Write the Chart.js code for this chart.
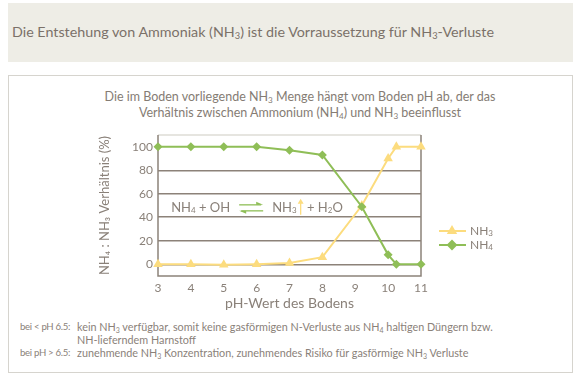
<!DOCTYPE html>
<html>
<head>
<meta charset="utf-8">
<script src="https://cdn.jsdelivr.net/npm/chart.js@4"></script>
<style>
  body { margin: 0; width: 580px; height: 375px; background: #fff; font-family: Lato, 'Open Sans', sans-serif; color: #8a8179; position: relative; overflow: hidden; }
  .banner { position: absolute; left: 8px; top: 3px; width: 565px; height: 59px; background: #eeede6; }
  .banner span { position: absolute; left: 4px; top: 20px; font-size: 14.3px; color: #7b7169; white-space: nowrap; }
  .box { position: absolute; left: 8px; top: 75px; width: 563px; height: 296px; border: 1px solid #d6d4ce; }
  .ctitle { position: absolute; left: 90px; width: 420px; top: 89px; text-align: center; font-size: 12.5px; line-height: 16px; color: #857c74; }
  sub { font-size: 65%; vertical-align: -2px; line-height: 0; }
  .note { position: absolute; font-size: 10.8px; line-height: 13px; color: #8a8179; white-space: nowrap; }
  .note.k { font-size: 9.6px; letter-spacing: -0.3px; }
  #wrap { position: absolute; left: 90px; top: 128px; width: 440px; height: 184px; }
</style>
</head>
<body>
<div class="banner"><span>Die Entstehung von Ammoniak (NH<sub>3</sub>) ist die Vorraussetzung für NH<sub>3</sub>-Verluste</span></div>
<div class="box"></div>
<div class="ctitle">Die im Boden vorliegende NH<sub>3</sub> Menge hängt vom Boden pH ab, der das<br>Verhältnis zwischen Ammonium (NH<sub>4</sub>) und NH<sub>3</sub> beeinflusst</div>
<div id="wrap"><canvas id="c"></canvas></div>
<div class="note k" style="left:20px; top:320px">bei &lt; pH 6.5:</div>
<div class="note" style="left:77px; top:320px">kein NH<sub>3</sub> verfügbar, somit keine gasförmigen N-Verluste aus NH<sub>4</sub> haltigen Düngern bzw.<br>NH-lieferndem Harnstoff</div>
<div class="note k" style="left:20px; top:346px">bei pH &gt; 6.5:</div>
<div class="note" style="left:77px; top:346px">zunehmende NH<sub>3</sub> Konzentration, zunehmendes Risiko für gasförmige NH<sub>3</sub> Verluste</div>
<script>
const phValues = [3, 4, 5, 6, 7, 8, 9.2, 10, 10.25, 11]
const nh3 = [0, 0, -0.5, 0, 1, 6, 50, 90, 100, 100]
const nh4 = [100, 100, 100, 100, 97, 93, 49, 8, 0, 0]
const yTicks = [0, 20, 40, 60, 80, 100]
const xTicks = [3, 4, 5, 6, 7, 8, 9, 10, 11]

const YELLOW = '#fcdc7e'
const GREEN = '#8fbe57'
const TEXT = '#8a8179'
const FRAME = '#8c8279'
const FONT = 'Lato, "Open Sans", sans-serif'

const toPoints = (ys) => phValues.map((x, i) => ({x: x, y: ys[i]}))

// frame, equation and legend drawn on the canvas
const extras = {
  id: 'extras',
  beforeDatasetsDraw(chart) {
    const ctx = chart.ctx
    const a = chart.chartArea
    ctx.save()
    ctx.lineWidth = 1.5
    ctx.strokeStyle = '#dedcd6'
    ctx.beginPath(); ctx.moveTo(a.left, a.top); ctx.lineTo(a.right, a.top); ctx.stroke()
    ctx.strokeStyle = FRAME
    ctx.beginPath()
    ctx.moveTo(a.left, a.top); ctx.lineTo(a.left, a.bottom); ctx.lineTo(a.right, a.bottom); ctx.lineTo(a.right, a.top)
    ctx.stroke()
    ctx.restore()
  },
  afterDatasetsDraw(chart) {
    const ctx = chart.ctx
    const a = chart.chartArea
    const xs = chart.scales.x, ys = chart.scales.y
    ctx.save()
    // equation
    let x = xs.getPixelForValue(3.4)
    const y = ys.getPixelForValue(48)
    ctx.textBaseline = 'middle'
    ctx.fillStyle = TEXT
    const txt = (s, size, dy) => {
      ctx.font = size + 'px ' + FONT
      ctx.fillText(s, x, y + (dy || 0))
      x += ctx.measureText(s).width
    }
    txt('NH', 13); txt('4', 8, 3); txt(' + OH', 13)
    x += 9
    ctx.strokeStyle = GREEN; ctx.fillStyle = GREEN; ctx.lineWidth = 1.3
    ctx.beginPath(); ctx.moveTo(x, y - 3); ctx.lineTo(x + 22, y - 3); ctx.stroke()
    ctx.beginPath(); ctx.moveTo(x + 24, y - 3); ctx.lineTo(x + 17, y - 6); ctx.lineTo(x + 17, y - 3); ctx.fill()
    ctx.beginPath(); ctx.moveTo(x + 2, y + 3); ctx.lineTo(x + 24, y + 3); ctx.stroke()
    ctx.beginPath(); ctx.moveTo(x, y + 3); ctx.lineTo(x + 7, y + 6); ctx.lineTo(x + 7, y + 3); ctx.fill()
    x += 33
    ctx.fillStyle = TEXT
    txt('NH', 13); txt('3', 8, 3)
    x += 4
    ctx.strokeStyle = YELLOW; ctx.fillStyle = YELLOW
    ctx.beginPath(); ctx.moveTo(x, y + 7); ctx.lineTo(x, y - 5); ctx.stroke()
    ctx.beginPath(); ctx.moveTo(x - 3, y - 4); ctx.lineTo(x, y - 9); ctx.lineTo(x + 3, y - 4); ctx.fill()
    x += 3
    ctx.fillStyle = TEXT
    txt(' + H', 13); txt('2', 8, 3); txt('O', 13)

    // legend
    chart.data.datasets.forEach((ds, i) => {
      const ly = a.top + 96 + i * 14
      const lx = a.right + 18
      ctx.strokeStyle = ds.borderColor; ctx.lineWidth = 2
      ctx.beginPath(); ctx.moveTo(lx, ly); ctx.lineTo(lx + 27, ly); ctx.stroke()
      Chart.helpers.drawPoint(ctx, {pointStyle: ds.pointStyle, radius: 4, rotation: 0, borderWidth: 1}, lx + 13, ly)
      ctx.fillStyle = ds.borderColor
      ctx.fill()
      ctx.fillStyle = TEXT
      ctx.textBaseline = 'middle'
      ctx.font = '12px ' + FONT
      ctx.fillText('NH', lx + 31, ly)
      const w = ctx.measureText('NH').width
      ctx.font = '8px ' + FONT
      ctx.fillText(ds.label.slice(2), lx + 31 + w, ly + 2)
    })
    ctx.restore()
  }
}

new Chart(document.getElementById('c'), {
  type: 'line',
  data: {
    datasets: [
      {
        label: 'NH3',
        data: toPoints(nh3),
        borderColor: YELLOW,
        backgroundColor: YELLOW,
        borderWidth: 2,
        pointStyle: 'triangle',
        pointRadius: 5.5,
        pointBorderWidth: 0,
        clip: false,
        order: 2
      },
      {
        label: 'NH4',
        data: toPoints(nh4),
        borderColor: GREEN,
        backgroundColor: GREEN,
        borderWidth: 2,
        pointStyle: 'rectRot',
        pointRadius: 4.5,
        pointBorderWidth: 0,
        clip: false,
        order: 1
      }
    ]
  },
  options: {
    responsive: true,
    maintainAspectRatio: false,
    animation: false,
    layout: { padding: { top: 7, right: 109, left: 7, bottom: 0 } },
    plugins: { legend: { display: false }, tooltip: { enabled: false } },
    scales: {
      x: {
        type: 'linear',
        min: 3,
        max: 11,
        afterBuildTicks: (s) => { s.ticks = xTicks.map(v => ({value: v})) },
        afterFit: (s) => { s.height = 36; s.paddingLeft = 0; s.paddingRight = 0 },
        grid: { display: false, drawTicks: false },
        border: { display: false },
        ticks: { color: TEXT, font: { family: FONT, size: 12 }, padding: 5, maxRotation: 0 },
        title: { display: true, text: 'pH-Wert des Bodens', color: TEXT, font: { family: FONT, size: 14 }, padding: { top: 0, bottom: 0 } }
      },
      y: {
        min: -10,
        max: 110,
        afterBuildTicks: (s) => { s.ticks = yTicks.map(v => ({value: v})) },
        afterFit: (s) => { s.width = 61; s.paddingTop = 0; s.paddingBottom = 0 },
        grid: { color: (c) => c.tick && c.tick.value === 100 ? 'rgba(0,0,0,0)' : FRAME, lineWidth: 1.5, drawTicks: false },
        border: { display: false },
        ticks: { color: TEXT, font: { family: FONT, size: 12 }, padding: 5 },
        title: { display: true, text: 'NH₄ : NH₃ Verhältnis (%)', color: TEXT, font: { family: FONT, size: 13 }, padding: { top: 0, bottom: 4 } }
      }
    }
  },
  plugins: [extras]
})
</script>
</body>
</html>
